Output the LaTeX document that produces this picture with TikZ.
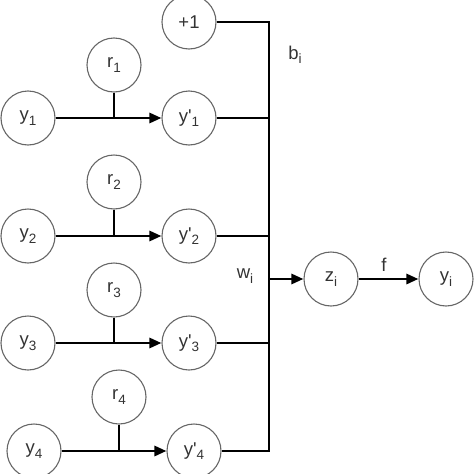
\documentclass[tikz,border=0pt]{standalone}
\usepackage{fontspec}
\setmainfont{Liberation Sans}
\usetikzlibrary{arrows.meta}
\newcommand{\sbs}[1]{\raisebox{-4.5pt}{\fontsize{13.5}{13.5}\selectfont #1}}
\newcommand{\pr}{\textquotesingle}
\begin{document}
\begin{tikzpicture}[x=1pt,y=-1pt,
  neuron/.style={circle,draw=black!60,line width=1.1pt,minimum size=54pt,inner sep=0pt,
    text=black!80,font=\fontsize{18.5}{18.5}\selectfont},
  conn/.style={line width=2.8pt,black},
  arr/.style={conn,-{Triangle[length=12pt,width=10pt]}},
  lab/.style={text=black!80,font=\fontsize{18.5}{18.5}\selectfont,inner sep=0pt}]
\useasboundingbox (0,0) rectangle (474,474);
\node[neuron] (p1) at (189,22) {+1};
\node[neuron] (y1) at (28,118) {y\sbs{1}};
\node[neuron] (r1) at (114,65) {r\sbs{1}};
\node[neuron] (q1) at (189,118) {y\pr\sbs{1}};
\node[neuron] (y2) at (28,236) {y\sbs{2}};
\node[neuron] (r2) at (114,182) {r\sbs{2}};
\node[neuron] (q2) at (189,236) {y\pr\sbs{2}};
\node[neuron] (y3) at (28,343) {y\sbs{3}};
\node[neuron] (r3) at (114,290) {r\sbs{3}};
\node[neuron] (q3) at (189,343) {y\pr\sbs{3}};
\node[neuron] (y4) at (34,451) {y\sbs{4}};
\node[neuron] (r4) at (119,397) {r\sbs{4}};
\node[neuron] (q4) at (194,451) {y\pr\sbs{4}};
\node[neuron] (z) at (331,279) {z\sbs{i}};
\node[neuron] (yi) at (446,279) {y\sbs{i}};
\coordinate (j1) at (114,118);
\coordinate (j2) at (114,236);
\coordinate (j3) at (114,343);
\coordinate (j4) at (119,451);
\coordinate (btop) at (269,22);
\coordinate (bbot) at (269,451);
\coordinate (b1) at (269,118);
\coordinate (b2) at (269,236);
\coordinate (b3) at (269,343);
\coordinate (bz) at (269,279);
\draw[arr] (y1) -- (q1);
\draw[arr] (y2) -- (q2);
\draw[arr] (y3) -- (q3);
\draw[arr] (y4) -- (q4);
\draw[conn] (r1) -- (j1);
\draw[conn] (r2) -- (j2);
\draw[conn] (r3) -- (j3);
\draw[conn] (r4) -- (j4);
\draw[conn,line join=miter] (p1) -- (btop) -- (bbot) -- (q4);
\draw[conn] (q1) -- (b1);
\draw[conn] (q2) -- (b2);
\draw[conn] (q3) -- (b3);
\draw[arr] (bz) -- (z);
\draw[arr] (z) -- (yi);
\node[lab] (bl) at (295,55) {b\sbs{i}};
\node[lab] (wl) at (245,276) {w\sbs{i}};
\node[lab] (fl) at (384,265) {f};
\end{tikzpicture}
\end{document}
